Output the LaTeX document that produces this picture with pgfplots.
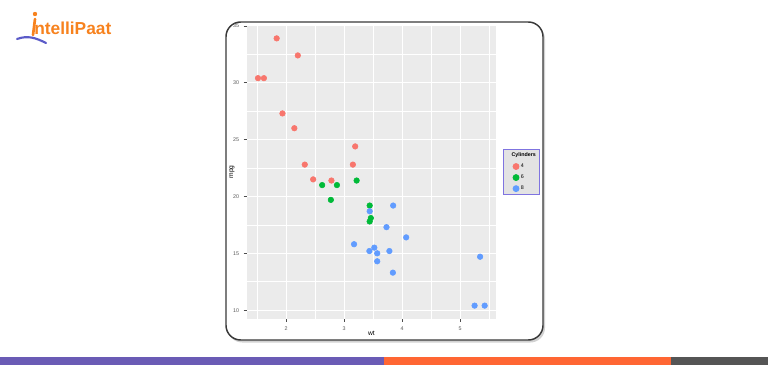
\documentclass[border=0pt]{standalone}
\usepackage{fontspec}
\setmainfont{Liberation Sans}
\usepackage{pgfplots}
\pgfplotsset{compat=1.18}
\definecolor{c4}{HTML}{F8766D}
\definecolor{c6}{HTML}{00BA38}
\definecolor{c8}{HTML}{619CFF}
\definecolor{panel}{HTML}{EBEBEB}
\definecolor{ipurple}{HTML}{6A5BB5}
\definecolor{iorange}{HTML}{FF6633}
\definecolor{logoor}{HTML}{F7821E}
\definecolor{logobl}{HTML}{5B5BC8}
\definecolor{igray}{HTML}{555555}
\definecolor{lborder}{HTML}{7F74E0}
\begin{document}
\begin{tikzpicture}[x=0.75pt,y=0.75pt]
\path[use as bounding box] (0,0) rectangle (768,365);
% bottom bar
\fill[ipurple] (0,0) rectangle (384,8);
\fill[iorange] (384,0) rectangle (671,8);
\fill[igray] (671,0) rectangle (768,8);
% logo
\node[anchor=west, inner sep=0pt, text=logoor, font=\bfseries\fontsize{13}{13}\selectfont] at (34,337) {ntelliPaat};
\draw[logoor, line width=2pt, line cap=round] (35,346) -- (33,330);
\fill[logoor] (35,351) circle (2.2);
\draw[logobl, line width=1.6pt, line cap=round] (17,326) .. controls (28,330) and (36,327) .. (46,322);
% frame with shadow
\fill[gray!35, rounded corners=11pt] (227.5,22.5) rectangle (545,340.5);
\filldraw[fill=white, draw=gray!45!black, line width=1.1pt, rounded corners=11pt] (226,25) rectangle (543,343);
\begin{axis}[
  at={(185pt,34.5pt)}, anchor=south west, scale only axis,
  width=187pt, height=220.5pt,
  xmin=1.3175, xmax=5.6195, ymin=9.225, ymax=35.075,
  axis background/.style={fill=panel},
  axis line style={draw=none},
  xtick={2,3,4,5}, ytick={10,15,20,25,30,35},
  minor xtick={1.5,2.5,3.5,4.5,5.5}, minor ytick={12.5,17.5,22.5,27.5,32.5},
  xtick pos=bottom, ytick pos=left,
  grid=both,
  major grid style={white, line width=0.8pt},
  minor grid style={white, line width=0.4pt},
  tick align=outside, major tick length=2.2pt, minor tick length=0pt,
  tick style={gray!60!black, line width=0.4pt},
  /pgf/number format/assume math mode=true,
  ticklabel style={font=\fontsize{4}{4.5}\selectfont, text=gray!70!black},
  xlabel={wt}, ylabel={mpg},
  label style={font=\fontsize{5}{6}\selectfont},
  xlabel style={at={(axis description cs:0.5,-0.048)}, anchor=center},
  ylabel style={at={(axis description cs:-0.059,0.5)}, anchor=center},
  legend style={at={(1.027,0.5)}, anchor=west, fill=gray!22, draw=lborder, line width=0.9pt, font=\fontsize{4}{5}\selectfont, inner sep=1pt, row sep=1pt, nodes={inner sep=1.5pt}},
  legend cell align=left,
]
\addlegendimage{empty legend}
\addlegendentry{\hspace{-7pt}\textbf{Cylinders}}
\addplot[only marks, mark=*, mark size=2.1pt, color=c4] coordinates {
(2.320,22.8) (3.190,24.4) (3.150,22.8) (2.200,32.4) (1.615,30.4) (1.835,33.9)
(2.465,21.5) (1.935,27.3) (2.140,26.0) (1.513,30.4) (2.780,21.4)};
\addlegendentry{4}
\addplot[only marks, mark=*, mark size=2.1pt, color=c6] coordinates {
(2.620,21.0) (2.875,21.0) (3.215,21.4) (3.460,18.1) (3.440,19.2) (3.440,17.8) (2.770,19.7)};
\addlegendentry{6}
\addplot[only marks, mark=*, mark size=2.1pt, color=c8] coordinates {
(3.440,18.7) (3.570,14.3) (4.070,16.4) (3.730,17.3) (3.780,15.2) (5.250,10.4)
(5.424,10.4) (5.345,14.7) (3.520,15.5) (3.435,15.2) (3.840,13.3) (3.845,19.2)
(3.170,15.8) (3.570,15.0)};
\addlegendentry{8}
\end{axis}
\end{tikzpicture}
\end{document}
